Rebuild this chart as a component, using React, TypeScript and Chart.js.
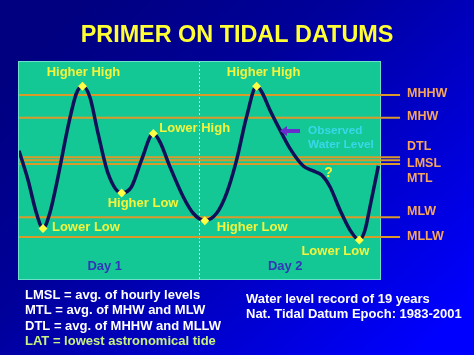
import React, { useEffect, useRef } from "react";
import { Chart, registerables } from "chart.js";

Chart.register(...registerables);

// Observed water level (hours, feet)
const hours = [0, 1.2, 2.32, 3.19, 4.09, 5.19, 6.52, 7.64, 8.44, 9.41, 10.51, 11.84, 13.65, 14.96, 16.29, 17.86, 18.72, 20.06, 21.83, 23.16, 24.71, 26.27, 27.6, 28.93, 30.26, 31.59, 32.26, 33.36, 34.7, 36.02, 37.8, 39.13, 40.24, 41.35, 42.68, 44.01, 45.25, 46.01, 46.67, 47.78];
const levels = [5.91, 4.56, 3.03, 2.33, 3.03, 4.71, 7.02, 8.56, 8.88, 8.4, 6.71, 4.87, 3.96, 4.25, 5.48, 6.7, 6.33, 5.18, 3.79, 3.03, 2.69, 3.03, 3.95, 5.48, 7.48, 8.88, 8.63, 7.79, 6.87, 6.02, 5.21, 4.98, 4.79, 4.25, 3.18, 2.26, 1.8, 2.26, 3.33, 5.21];

// Extremes (hours, feet, label)
const extremeHours = [8.44, 3.19, 13.65, 17.86, 24.71, 31.59, 45.25];
const extremeLevels = [8.88, 2.33, 3.96, 6.7, 2.69, 8.88, 1.8];
const extremeLabels = ["Higher High", "Lower Low", "Higher Low", "Lower High", "Higher Low", "Higher High", "Lower Low"];

// Tidal datums (feet)
const datumNames = ["MHHW", "MHW", "DTL", "LMSL", "MTL", "MLW", "MLLW"];
const datumLevels = [8.48, 7.43, 5.61, 5.47, 5.3, 2.84, 1.94];

const dayLabels = ["Day 1", "Day 2"];
const dayCenters = [11.4, 35.4];
const dayBoundary = 24;

const title = "PRIMER ON TIDAL DATUMS";
const notesLeft = ["LMSL = avg. of hourly levels", "MTL = avg. of MHW and MLW", "DTL = avg. of MHHW and MLLW", "LAT = lowest astronomical tide"];
const notesRight = ["Water level record of 19 years", "Nat. Tidal Datum Epoch: 1983-2001"];

const X_MIN = 0, X_MAX = 48, Y_MIN = 0, Y_MAX = 10;
const DATUM_END = 50.67;

// label offsets relative to the marker (px) and alignment
const labelPlacement = [
  { dx: 1, dy: -14, align: "center" },
  { dx: 9, dy: -1, align: "left" },
  { dx: -14, dy: 10, align: "left" },
  { dx: 6, dy: -5, align: "left" },
  { dx: 12, dy: 7, align: "left" },
  { dx: 7, dy: -14, align: "center" },
  { dx: 10, dy: 11, align: "right" },
];

const FONT = "'Liberation Sans', Arial, sans-serif";

const decorPlugin = {
  id: "decor",
  beforeDraw(chart: any) {
    const { ctx, width, height, chartArea: a } = chart;
    ctx.save();
    const g = ctx.createLinearGradient(80, 0, 420, 355);
    g.addColorStop(0, "#000080");
    g.addColorStop(0.35, "#00009a");
    g.addColorStop(1, "#0000ff");
    ctx.fillStyle = g;
    ctx.fillRect(0, 0, width, height);
    ctx.fillStyle = "#14c896";
    ctx.fillRect(a.left, a.top, a.right - a.left, a.bottom - a.top);
    ctx.strokeStyle = "#6ce0c8";
    ctx.lineWidth = 1;
    ctx.strokeRect(a.left - 0.5, a.top - 0.5, a.right - a.left + 1, a.bottom - a.top + 1);
    ctx.restore();
  },
  afterDraw(chart: any) {
    const { ctx, scales, width } = chart;
    const xs = scales.x, ys = scales.y;
    ctx.save();
    ctx.textBaseline = "middle";
    // title
    ctx.fillStyle = "#ffff33";
    ctx.font = `bold 23.4px ${FONT}`;
    ctx.textAlign = "center";
    ctx.fillText(title, width / 2, 36);

    // datum labels
    ctx.fillStyle = "#f7a55a";
    ctx.font = `bold 12.5px ${FONT}`;
    ctx.textAlign = "left";
    const datumLabelY = [93.5, 116.7, 146.7, 163.3, 178.3, 211.7, 236.7];
    datumNames.forEach((n, i) => {
      ctx.fillText(n, 407, datumLabelY[i]);
    });

    // extreme labels
    ctx.fillStyle = "#f4f43c";
    ctx.font = `bold 13px ${FONT}`;
    extremeLabels.forEach((t, i) => {
      const p = labelPlacement[i];
      const px = xs.getPixelForValue(extremeHours[i]) + p.dx;
      const py = ys.getPixelForValue(extremeLevels[i]) + p.dy;
      ctx.textAlign = p.align;
      ctx.fillText(t, px, py);
    });

    // question mark
    ctx.textAlign = "center";
    ctx.font = `bold 14px ${FONT}`;
    ctx.fillText("?", 328.5, 173.5);

    // Observed water level
    ctx.fillStyle = "#38d8e8";
    ctx.font = `bold 11.8px ${FONT}`;
    ctx.textAlign = "left";
    ctx.fillText("Observed", 308, 131);
    ctx.fillText("Water Level", 308, 144.5);
    // arrow
    ctx.fillStyle = "#6a2ccc";
    ctx.beginPath();
    ctx.moveTo(280, 131);
    ctx.lineTo(287, 126);
    ctx.lineTo(287, 129);
    ctx.lineTo(300, 129);
    ctx.lineTo(300, 133);
    ctx.lineTo(287, 133);
    ctx.lineTo(287, 136);
    ctx.closePath();
    ctx.fill();

    // day labels
    ctx.fillStyle = "#3434b8";
    ctx.font = `bold 13px ${FONT}`;
    ctx.textAlign = "center";
    dayLabels.forEach((d, i) => {
      ctx.fillText(d, xs.getPixelForValue(dayCenters[i]), 266);
    });

    // notes
    ctx.textAlign = "left";
    ctx.font = `bold 13px ${FONT}`;
    notesLeft.forEach((t, i) => {
      ctx.fillStyle = i === 3 ? "#c8f080" : "#ffffff";
      ctx.fillText(t, 25, 295 + i * 15.6);
    });
    ctx.fillStyle = "#ffffff";
    notesRight.forEach((t, i) => {
      ctx.fillText(t, 246, 299 + i * 15.2);
    });
    ctx.restore();
  },
};

export default function App() {
  const ref = useRef<HTMLCanvasElement>(null);
  useEffect(() => {
    document.body.style.margin = "0";
    const datumSets = datumLevels.map((v, i) => ({
      type: "line" as const,
      label: datumNames[i],
      data: [{ x: X_MIN, y: v }, { x: DATUM_END, y: v }],
      borderColor: "#d99a2a",
      borderWidth: 2,
      pointRadius: 0,
      clip: false as any,
      order: 3,
    }));
    const chart = new Chart(ref.current!, {
      type: "line",
      data: {
        datasets: [
          {
            label: "extremes",
            data: extremeHours.map((h, i) => ({ x: h, y: extremeLevels[i] })),
            showLine: false,
            pointStyle: "rectRot",
            pointRadius: 4.5,
            pointBackgroundColor: "#ffff44",
            pointBorderWidth: 0,
            order: 0,
          },
          {
            label: "Observed",
            data: hours.map((h, i) => ({ x: h, y: levels[i] })),
            borderColor: "#10105a",
            borderWidth: 3.5,
            pointRadius: 0,
            cubicInterpolationMode: "monotone",
            order: 1,
          },
          ...datumSets,
          {
            label: "day",
            data: [{ x: dayBoundary, y: Y_MIN }, { x: dayBoundary, y: Y_MAX }],
            borderColor: "rgba(230,255,255,0.8)",
            borderWidth: 1,
            borderDash: [2, 2],
            pointRadius: 0,
            order: 4,
          },
        ] as any,
      },
      options: {
        animation: false,
        responsive: false,
        events: [],
        layout: { padding: { left: 19, right: 94, top: 62, bottom: 76 } },
        plugins: { legend: { display: false }, tooltip: { enabled: false }, title: { display: false } },
        scales: {
          x: { type: "linear", min: X_MIN, max: X_MAX, display: false },
          y: { type: "linear", min: Y_MIN, max: Y_MAX, display: false },
        },
      },
      plugins: [decorPlugin],
    });
    return () => chart.destroy();
  }, []);
  return (
    <div style={{ position: "absolute", left: 0, top: 0, width: 474, height: 355 }}>
      <canvas ref={ref} width={474} height={355} style={{ display: "block" }} />
    </div>
  );
}
